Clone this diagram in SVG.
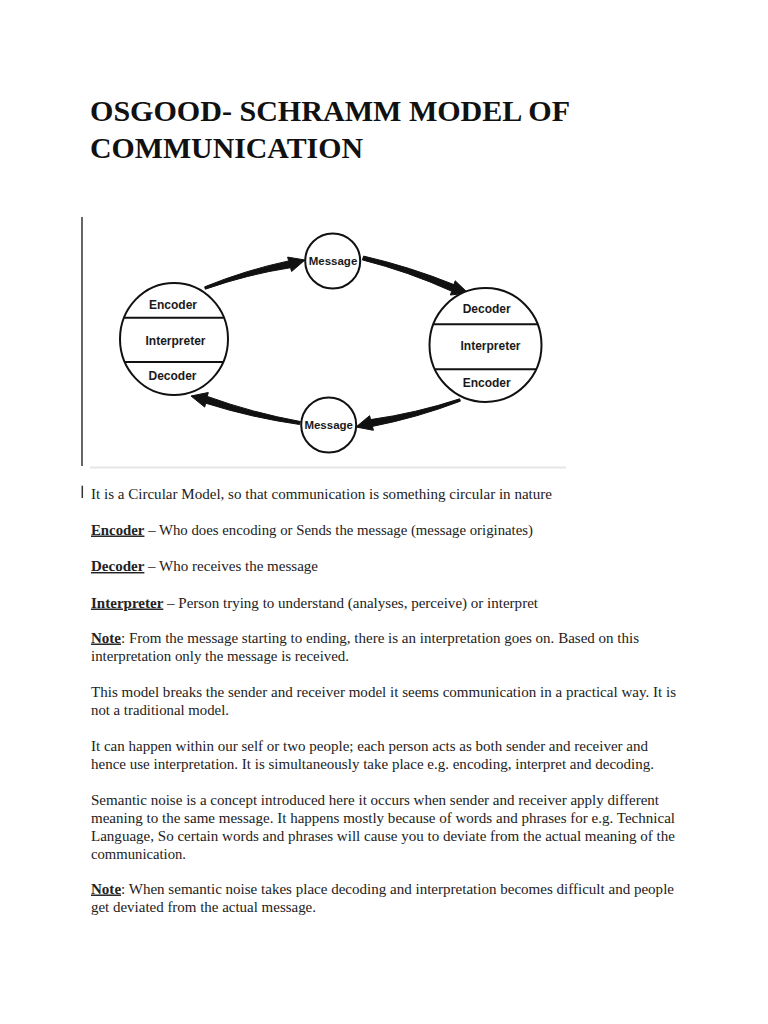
<svg xmlns="http://www.w3.org/2000/svg" width="768" height="1024" viewBox="0 0 768 1024">
<style>
.title{font-family:"Liberation Serif","Times New Roman",serif;font-weight:bold;font-size:30px;fill:#111}
.body{font-family:"Liberation Serif","Times New Roman",serif;font-size:14.5px;fill:#222}
.lab{font-weight:bold;text-decoration:underline}
.node{fill:#fff;stroke:#111;stroke-width:2}
.sep{stroke:#111;stroke-width:2}
.nt{font-family:"Liberation Sans",Arial,sans-serif;font-weight:bold;font-size:12px;fill:#1a1a1a;text-anchor:middle}
.msg{font-size:11.5px}
.arrow{fill:#111;stroke:#111;stroke-width:1;stroke-linejoin:round}
</style>
<rect width="768" height="1024" fill="#fff"/>
<text class="title" x="90" y="121" textLength="480" lengthAdjust="spacingAndGlyphs">OSGOOD- SCHRAMM MODEL OF</text>
<text class="title" x="90" y="158" textLength="273" lengthAdjust="spacingAndGlyphs">COMMUNICATION</text>

<line x1="82" y1="217" x2="82" y2="466" stroke="#333" stroke-width="1.5"/>
<line x1="90" y1="467.5" x2="566" y2="467.5" stroke="#e6e6e6" stroke-width="2"/>

<g id="connectors">
<path class="arrow" d="M204.7,286.8 Q245.6,270.1 288.7,260.9 L287.6,257.1 L305,260 L291.6,271.5 L290.5,267.7 Q246.8,274.5 205.3,289.2 Z"/>
<path class="arrow" d="M363.6,256.1 Q410.0,266.8 453.9,284.6 L455.2,280.8 L468,293 L450.4,295.0 L451.7,291.2 Q408.4,271.6 362.4,259.9 Z"/>
<path class="arrow" d="M460.3,401.2 Q417.4,417.6 372.4,426.4 L373.4,430.3 L356,427 L369.6,415.7 L370.6,419.6 Q416.2,413.2 459.7,398.8 Z"/>
<path class="arrow" d="M299.6,424.5 Q251.7,417.7 205.7,403.2 L204.7,407.1 L191,396 L208.3,392.5 L207.3,396.4 Q252.9,412.9 300.4,421.5 Z"/>
</g>

<g id="sender">
<ellipse class="node" cx="174" cy="339" rx="54" ry="56"/>
<line class="sep" x1="124.1" y1="317.7" x2="223.9" y2="317.7"/>
<line class="sep" x1="124.8" y1="362" x2="223.2" y2="362"/>
<text class="nt" x="173" y="308.5">Encoder</text>
<text class="nt" x="175.5" y="344.5">Interpreter</text>
<text class="nt" x="172.5" y="380">Decoder</text>
</g>

<g id="receiver">
<ellipse class="node" cx="485.5" cy="345" rx="56" ry="57"/>
<line class="sep" x1="433.3" y1="324.3" x2="537.7" y2="324.3"/>
<line class="sep" x1="434.8" y1="369.3" x2="536.2" y2="369.3"/>
<text class="nt" x="486.7" y="313">Decoder</text>
<text class="nt" x="490.5" y="349.5">Interpreter</text>
<text class="nt" x="486.7" y="387">Encoder</text>
</g>

<g id="message-top">
<circle class="node" cx="332.7" cy="261" r="27.5"/>
<text class="nt msg" x="333" y="265">Message</text>
</g>

<g id="message-bottom">
<circle class="node" cx="328.7" cy="425" r="27.5"/>
<text class="nt msg" x="328.7" y="429">Message</text>
</g>

<line x1="82.3" y1="485.7" x2="82.3" y2="498" stroke="#333" stroke-width="1.5"/>

<text class="body" x="91" y="498.5" textLength="461" lengthAdjust="spacingAndGlyphs">It is a Circular Model, so that communication is something circular in nature</text>
<text class="body" x="91" y="534.5" textLength="442" lengthAdjust="spacingAndGlyphs"><tspan class="lab">Encoder</tspan> – Who does encoding or Sends the message (message originates)</text>
<text class="body" x="91" y="571" textLength="227" lengthAdjust="spacingAndGlyphs"><tspan class="lab">Decoder</tspan> – Who receives the message</text>
<text class="body" x="91" y="607.5" textLength="447" lengthAdjust="spacingAndGlyphs"><tspan class="lab">Interpreter</tspan> – Person trying to understand (analyses, perceive) or interpret</text>
<text class="body" x="91" y="642.5" textLength="548" lengthAdjust="spacingAndGlyphs"><tspan class="lab">Note</tspan>: From the message starting to ending, there is an interpretation goes on. Based on this</text>
<text class="body" x="91" y="661" textLength="258" lengthAdjust="spacingAndGlyphs">interpretation only the message is received.</text>
<text class="body" x="91" y="696.5" textLength="585" lengthAdjust="spacingAndGlyphs">This model breaks the sender and receiver model it seems communication in a practical way. It is</text>
<text class="body" x="91" y="715" textLength="138" lengthAdjust="spacingAndGlyphs">not a traditional model.</text>
<text class="body" x="91" y="750.5" textLength="557" lengthAdjust="spacingAndGlyphs">It can happen within our self or two people; each person acts as both sender and receiver and</text>
<text class="body" x="91" y="768.5" textLength="563" lengthAdjust="spacingAndGlyphs">hence use interpretation. It is simultaneously take place e.g. encoding, interpret and decoding.</text>
<text class="body" x="91" y="804.5" textLength="568" lengthAdjust="spacingAndGlyphs">Semantic noise is a concept introduced here it occurs when sender and receiver apply different</text>
<text class="body" x="91" y="822.5" textLength="584" lengthAdjust="spacingAndGlyphs">meaning to the same message. It happens mostly because of words and phrases for e.g. Technical</text>
<text class="body" x="91" y="840.5" textLength="584" lengthAdjust="spacingAndGlyphs">Language, So certain words and phrases will cause you to deviate from the actual meaning of the</text>
<text class="body" x="91" y="858.5" textLength="95" lengthAdjust="spacingAndGlyphs">communication.</text>
<text class="body" x="91" y="893.5" textLength="583" lengthAdjust="spacingAndGlyphs"><tspan class="lab">Note</tspan>: When semantic noise takes place decoding and interpretation becomes difficult and people</text>
<text class="body" x="91" y="912" textLength="225" lengthAdjust="spacingAndGlyphs">get deviated from the actual message.</text>
</svg>
